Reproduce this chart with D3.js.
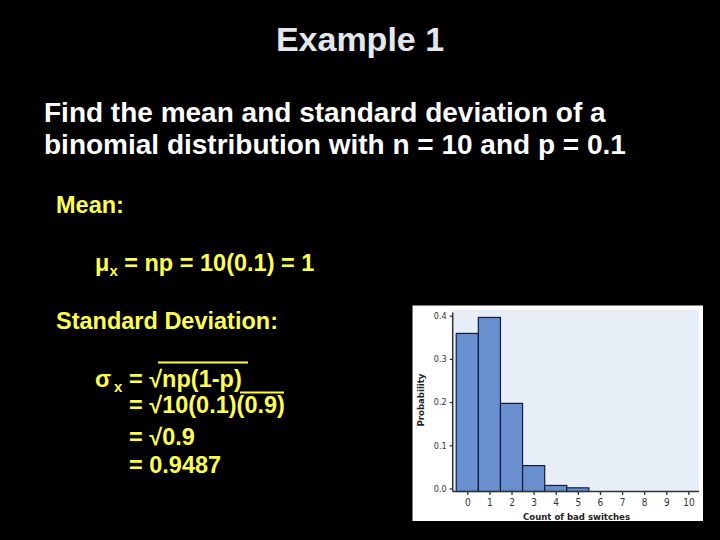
<!DOCTYPE html>
<html>
<head>
<meta charset="utf-8">
<script src="https://cdn.jsdelivr.net/npm/d3@7"></script>
<style>
  html, body { margin: 0; padding: 0; background: #000; }
  svg { display: block; }
</style>
</head>
<body>
<svg id="slide"></svg>
<script>
// Chart data
const counts = [0, 1, 2, 3, 4, 5, 6, 7, 8, 9, 10];
const probabilities = [0.359, 0.396, 0.197, 0.053, 0.007, 0.0015, 0, 0, 0, 0, 0];
const yTicks = [0.0, 0.1, 0.2, 0.3, 0.4];

// Slide text
const titleText = "Example 1";
const questionLines = [
  "Find the mean and standard deviation of a",
  "binomial distribution with n = 10 and p = 0.1"
];

const W = 720, H = 540;
const svg = d3.select("#slide").attr("width", W).attr("height", H);

svg.append("rect").attr("width", W).attr("height", H).attr("fill", "#000");

const font = "'Liberation Sans', Arial, sans-serif";
const yellow = "#ffff4f";

// Title
svg.append("text")
  .attr("x", 360).attr("y", 51)
  .attr("text-anchor", "middle")
  .attr("font-family", font).attr("font-weight", "bold")
  .attr("font-size", 34).attr("fill", "#e4e7ec")
  .text(titleText);

// Question
svg.selectAll(".q")
  .data(questionLines)
  .enter()
  .append("text")
  .attr("class", "q")
  .attr("x", 44)
  .attr("y", (d, i) => 122 + i * 32)
  .attr("font-family", font).attr("font-weight", "bold")
  .attr("font-size", 28).attr("fill", "#ffffff")
  .text((d) => d);

// Yellow working
function yText(x, y, parts) {
  const t = svg.append("text")
    .attr("x", x).attr("y", y)
    .attr("font-family", font).attr("font-weight", "bold")
    .attr("font-size", 23.5).attr("fill", yellow);
  parts.forEach((p) => {
    const s = t.append("tspan").text(p.t);
    if (p.sub) s.attr("font-size", 15).attr("dy", 5).attr("dx", p.gap || 0);
    if (p.up) s.attr("dy", -5);
  });
  return t;
}

yText(56, 213, [{ t: "Mean:" }]);
yText(95, 271, [{ t: "μ" }, { t: "x", sub: true }, { t: " = np = 10(0.1) = 1", up: true }]);
yText(56, 329, [{ t: "Standard Deviation:" }]);
yText(95, 387, [{ t: "σ" }, { t: "x", sub: true, gap: 3 }, { t: " = √np(1-p)", up: true }]);
yText(129, 413, [{ t: "= √10(0.1)(0.9)" }]);
yText(129, 445, [{ t: "= √0.9" }]);
yText(129, 473, [{ t: "= 0.9487" }]);

// radical overlines
svg.append("line").attr("x1", 158).attr("x2", 248).attr("y1", 362.5).attr("y2", 362.5)
  .attr("stroke", yellow).attr("stroke-width", 2);
svg.append("line").attr("x1", 240).attr("x2", 284).attr("y1", 392.5).attr("y2", 392.5)
  .attr("stroke", yellow).attr("stroke-width", 2);

// ---- Histogram figure ----
const panel = { x: 412.5, y: 305.5, w: 290.5, h: 215.5 };
svg.append("rect")
  .attr("x", panel.x).attr("y", panel.y)
  .attr("width", panel.w).attr("height", panel.h)
  .attr("fill", "#ffffff");

const plot = { left: 452.7, right: 699, top: 310, bottom: 491.5 };

const x = d3.scaleLinear().domain([-0.66, 10.48]).range([plot.left, plot.right]);
const y = d3.scaleLinear().domain([-0.007, 0.4]).range([plot.bottom, 315.7]);

svg.append("rect")
  .attr("x", plot.left).attr("y", plot.top)
  .attr("width", plot.right - plot.left).attr("height", plot.bottom - plot.top)
  .attr("fill", "#e7eef8");

const bars = counts.map((c, i) => ({ c, p: probabilities[i] })).filter((d) => d.p > 0);

svg.selectAll(".bar")
  .data(bars)
  .enter()
  .append("rect")
  .attr("class", "bar")
  .attr("x", (d) => x(d.c - 0.5))
  .attr("y", (d) => y(d.p))
  .attr("width", (d) => x(d.c + 0.5) - x(d.c - 0.5))
  .attr("height", (d) => y(-0.007) - y(d.p))
  .attr("fill", "#6a8fcf")
  .attr("stroke", "#0f1d44")
  .attr("stroke-width", 1.2);

const axisFont = "'Liberation Sans Narrow', 'DejaVu Sans Condensed', Arial, sans-serif";

// y axis
const yAxis = svg.append("g")
  .attr("transform", `translate(${plot.left},0)`)
  .call(d3.axisLeft(y).tickValues(yTicks).tickSize(3).tickPadding(3).tickFormat(d3.format(".1f")));
yAxis.select(".domain").attr("d", `M0,${312.5}V${plot.bottom}`).attr("stroke", "#333").attr("stroke-width", 1.5);
yAxis.selectAll(".tick line").attr("stroke", "#333").attr("stroke-width", 1.3);
yAxis.selectAll(".tick text").attr("font-family", axisFont).attr("font-size", 9).attr("fill", "#333");

// x axis
const xAxis = svg.append("g")
  .attr("transform", `translate(0,${plot.bottom})`)
  .call(d3.axisBottom(x).tickValues(counts).tickSize(3.5).tickPadding(4).tickFormat(d3.format("d")));
xAxis.select(".domain").attr("d", `M${plot.left},0H${plot.right}`).attr("stroke", "#333").attr("stroke-width", 1.5);
xAxis.selectAll(".tick line").attr("stroke", "#333").attr("stroke-width", 1.3);
xAxis.selectAll(".tick text").attr("font-family", axisFont).attr("font-size", 10).attr("fill", "#333");

// axis titles
svg.append("text")
  .attr("transform", `translate(424,${400}) rotate(-90)`)
  .attr("text-anchor", "middle")
  .attr("font-family", axisFont).attr("font-weight", "bold")
  .attr("font-size", 9.5).attr("fill", "#222")
  .text("Probability");

svg.append("text")
  .attr("x", 576.5).attr("y", 519.5)
  .attr("text-anchor", "middle")
  .attr("font-family", axisFont).attr("font-weight", "bold")
  .attr("font-size", 9.5).attr("fill", "#222")
  .text("Count of bad switches");
</script>
</body>
</html>
